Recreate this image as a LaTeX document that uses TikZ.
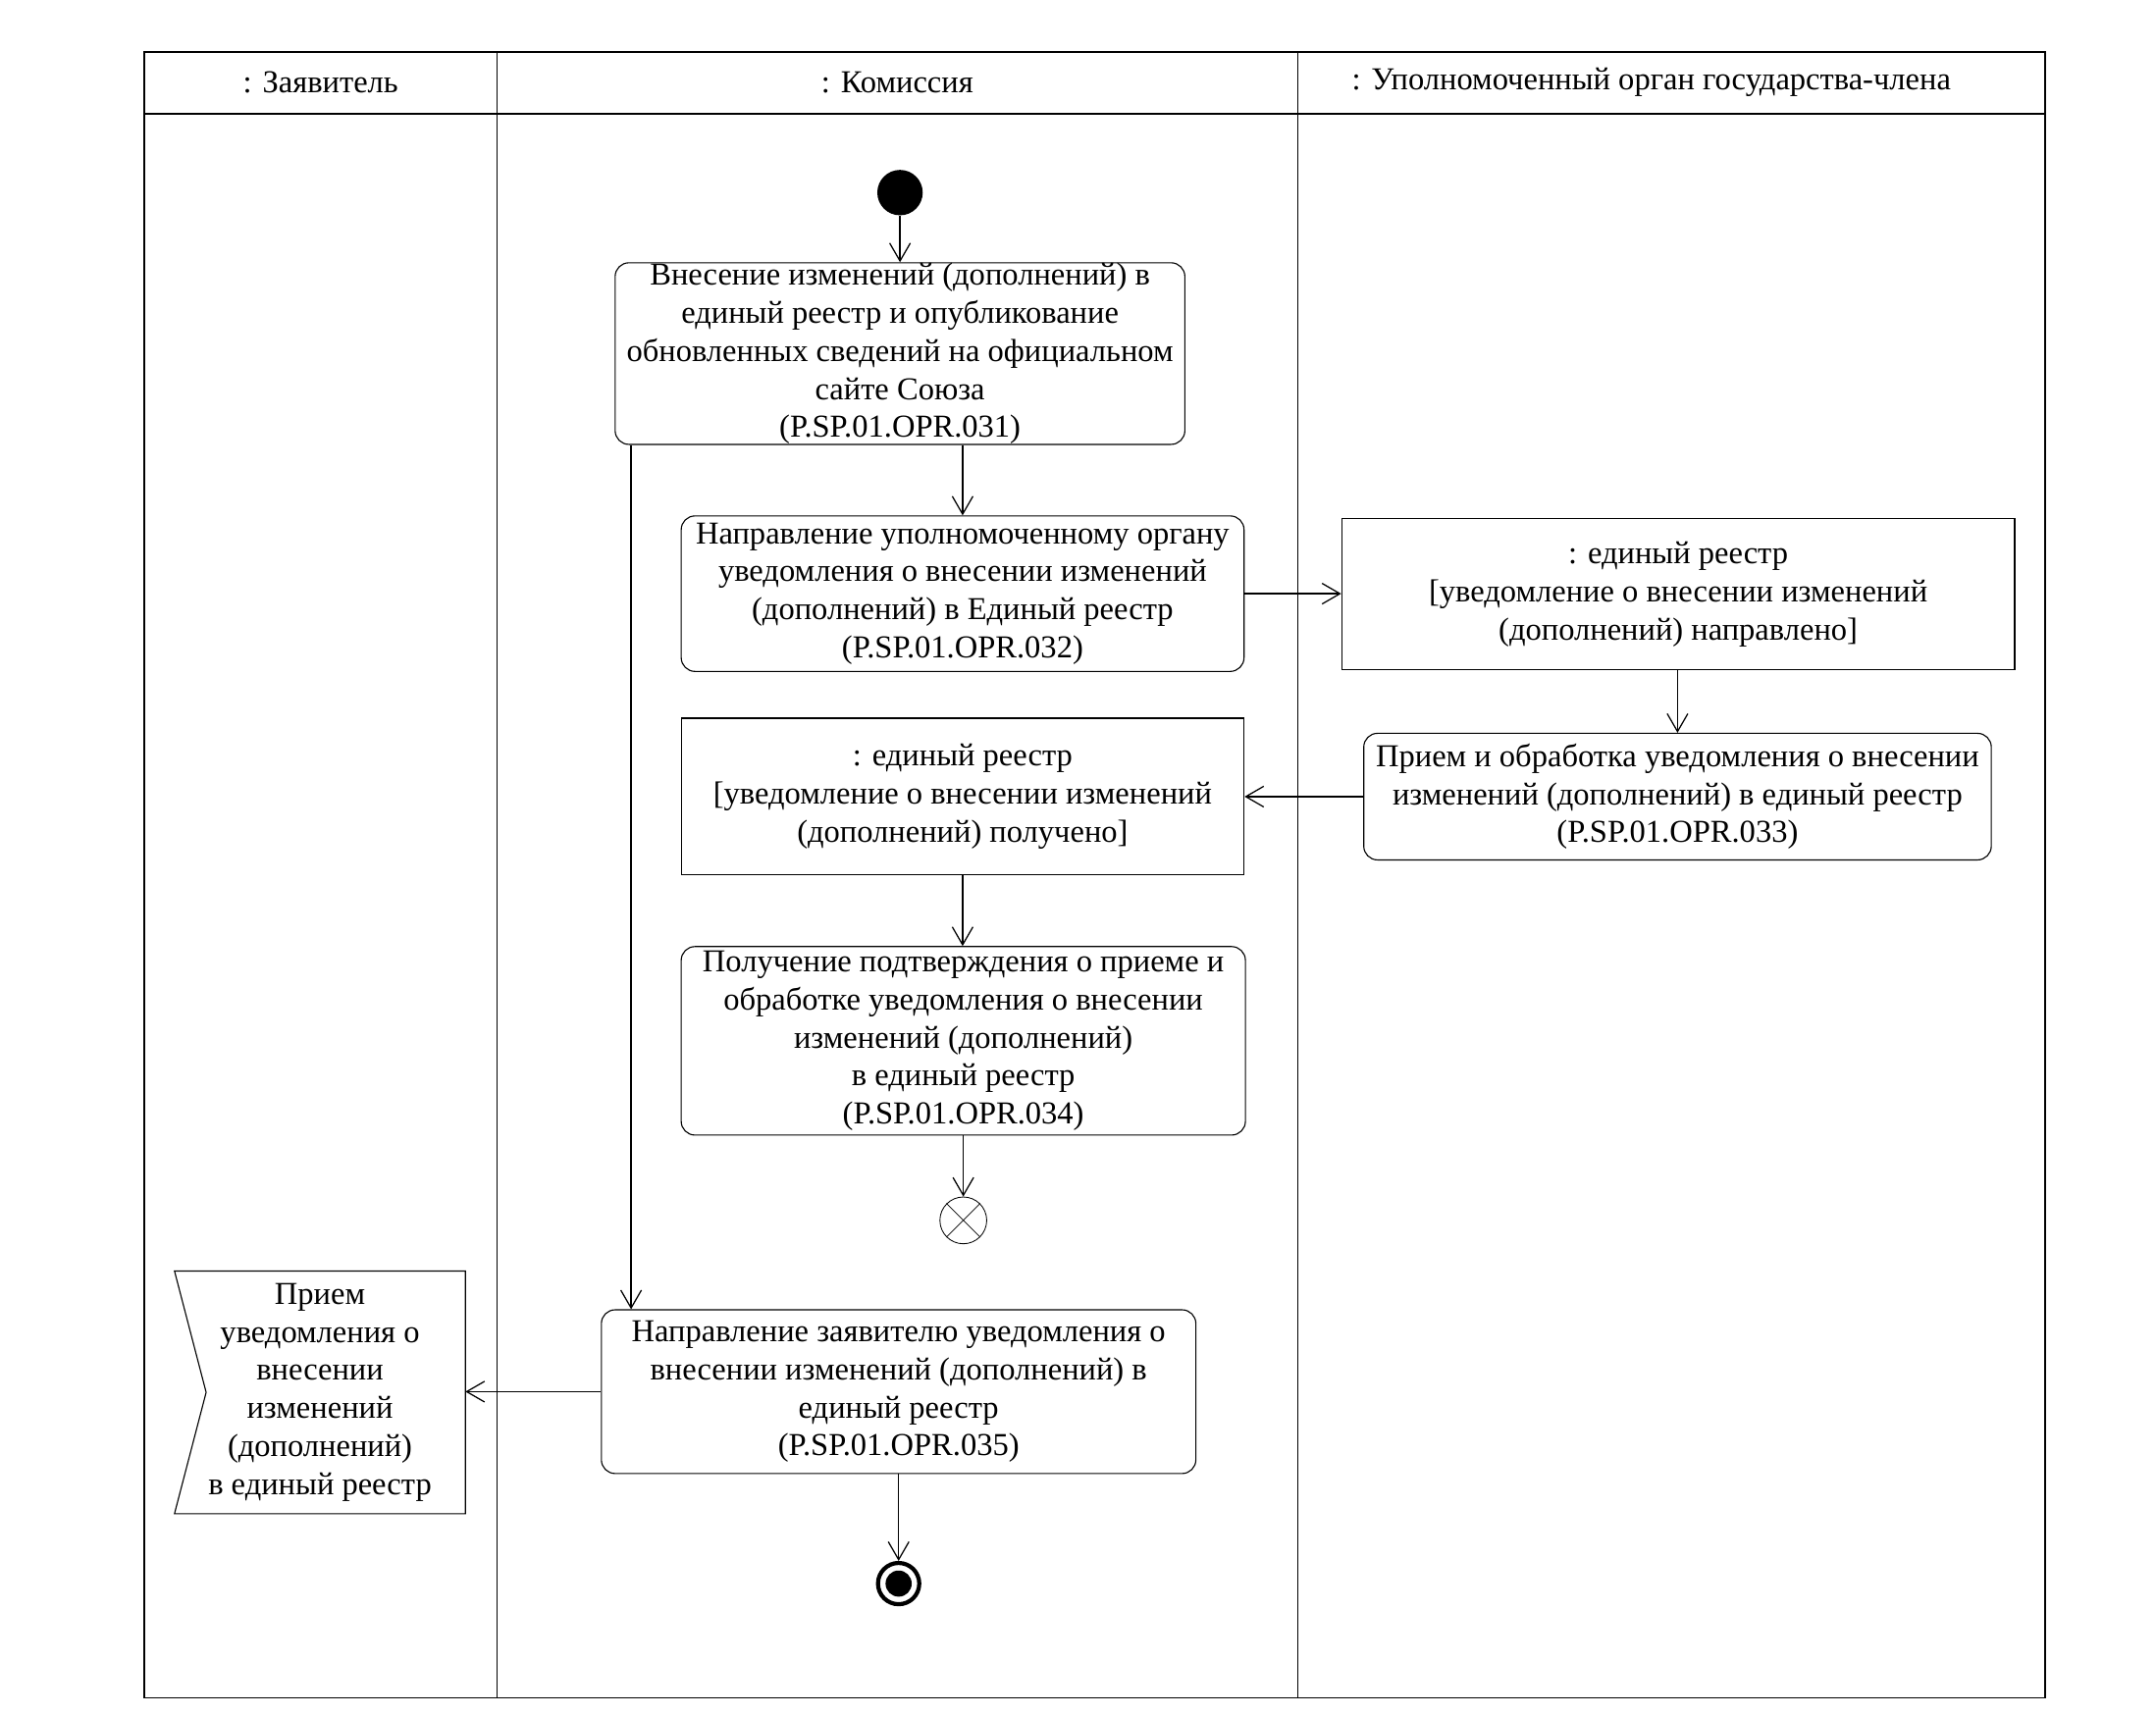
\documentclass[tikz,border=0pt]{standalone}
\usepackage{fontspec}
\setmainfont{Liberation Serif}
\usetikzlibrary{arrows.meta}
\begin{document}
\begin{tikzpicture}[x=1pt,y=-1pt,
  every node/.style={font=\fontsize{23.2}{27.7}\selectfont, inner sep=0pt, align=center},
  act/.style={draw, rounded corners=10pt, line width=0.8pt},
  obj/.style={draw, line width=0.8pt},
  flow/.style={-{Straight Barb[length=13pt,width=15pt,line width=0.9pt]}, line width=0.9pt},
  lane/.style={line width=1.3pt}]
\useasboundingbox (0,0) rectangle (1566.7,1246.5);

% swimlanes
\draw[lane] (105,38) rectangle (1486,1234);
\draw[lane] (105,83) -- (1486,83);
\draw[line width=0.9pt] (361,38) -- (361,1234);
\draw[line width=0.9pt] (943,38) -- (943,1234);
\node (h1) at (233,60) {: Заявитель};
\node (h2) at (652,60) {: Комиссия};
\node (h3) at (1200,60) {: Уполномоченный орган государства-члена};

% nodes
\node[circle, fill=black, minimum size=33pt] (init) at (654,140) {};
\node[act, minimum width=414pt, minimum height=132pt] (b1) at (654,257)
  {Внесение изменений (дополнений) в\\единый реестр и опубликование\\обновленных сведений на официальном\\сайте Союза\\(P.SP.01.OPR.031)};
\node[act, minimum width=409pt, minimum height=113pt] (b2) at (699.5,431.5)
  {Направление уполномоченному органу\\уведомления о внесении изменений\\(дополнений) в Единый реестр\\(P.SP.01.OPR.032)};
\node[obj, minimum width=489pt, minimum height=110pt] (o1) at (1219.5,432)
  {: единый реестр\\{[}уведомление о внесении изменений\\(дополнений) направлено{]}};
\node[act, minimum width=456pt, minimum height=92pt] (b3) at (1219,579)
  {Прием и обработка уведомления о внесении\\изменений (дополнений) в единый реестр\\(P.SP.01.OPR.033)};
\node[obj, minimum width=409pt, minimum height=114pt] (o2) at (699.5,579)
  {: единый реестр\\{[}уведомление о внесении изменений\\(дополнений) получено{]}};
\node[act, minimum width=410pt, minimum height=137pt] (b4) at (700,756.5)
  {Получение подтверждения о приеме и\\обработке уведомления о внесении\\изменений (дополнений)\\в единый реестр\\(P.SP.01.OPR.034)};
\node[circle, draw, line width=0.6pt, minimum size=34pt] (ff) at (700,887) {};
\draw[line width=0.5pt] (ff.45) -- (ff.225) (ff.135) -- (ff.315);
\node[act, minimum width=432pt, minimum height=119pt] (b5) at (653,1011.5)
  {Направление заявителю уведомления о\\внесении изменений (дополнений) в\\единый реестр\\(P.SP.01.OPR.035)};
\node[minimum width=211pt, minimum height=176pt] (sig) at (232.5,1012)
  {Прием\\уведомления о\\внесении\\изменений\\(дополнений)\\в единый реестр};
\draw[line width=0.8pt] (sig.north west) -- (sig.north east) -- (sig.south east) -- (sig.south west) -- ([xshift=23pt]sig.west) -- cycle;
\node[circle, draw, line width=3pt, minimum size=30pt] (fin) at (653,1151) {};
\node[circle, fill=black, minimum size=19pt] (finc) at (fin) {};

% connectors
\draw[flow] (init) -- (b1.north);
\draw[flow] (b1.south -| b2.north) -- (b2.north);
\draw[flow] (b2.east) -- (b2.east -| o1.west);
\draw[flow] (o1.south -| b3.north) -- (b3.north);
\draw[flow] (b3.west) -- (b3.west -| o2.east);
\draw[flow] (o2.south) -- (o2.south |- b4.north);
\draw[flow] (b4.south -| ff.north) -- (ff.north);
\coordinate (lstart) at ([xshift=12pt]b1.south west);
\draw[flow] (lstart) -- (lstart |- b5.north);
\draw[flow] (b5.west) -- (b5.west -| sig.east);
\draw[flow] (b5.south -| fin.north) -- (fin.north);
\end{tikzpicture}
\end{document}
